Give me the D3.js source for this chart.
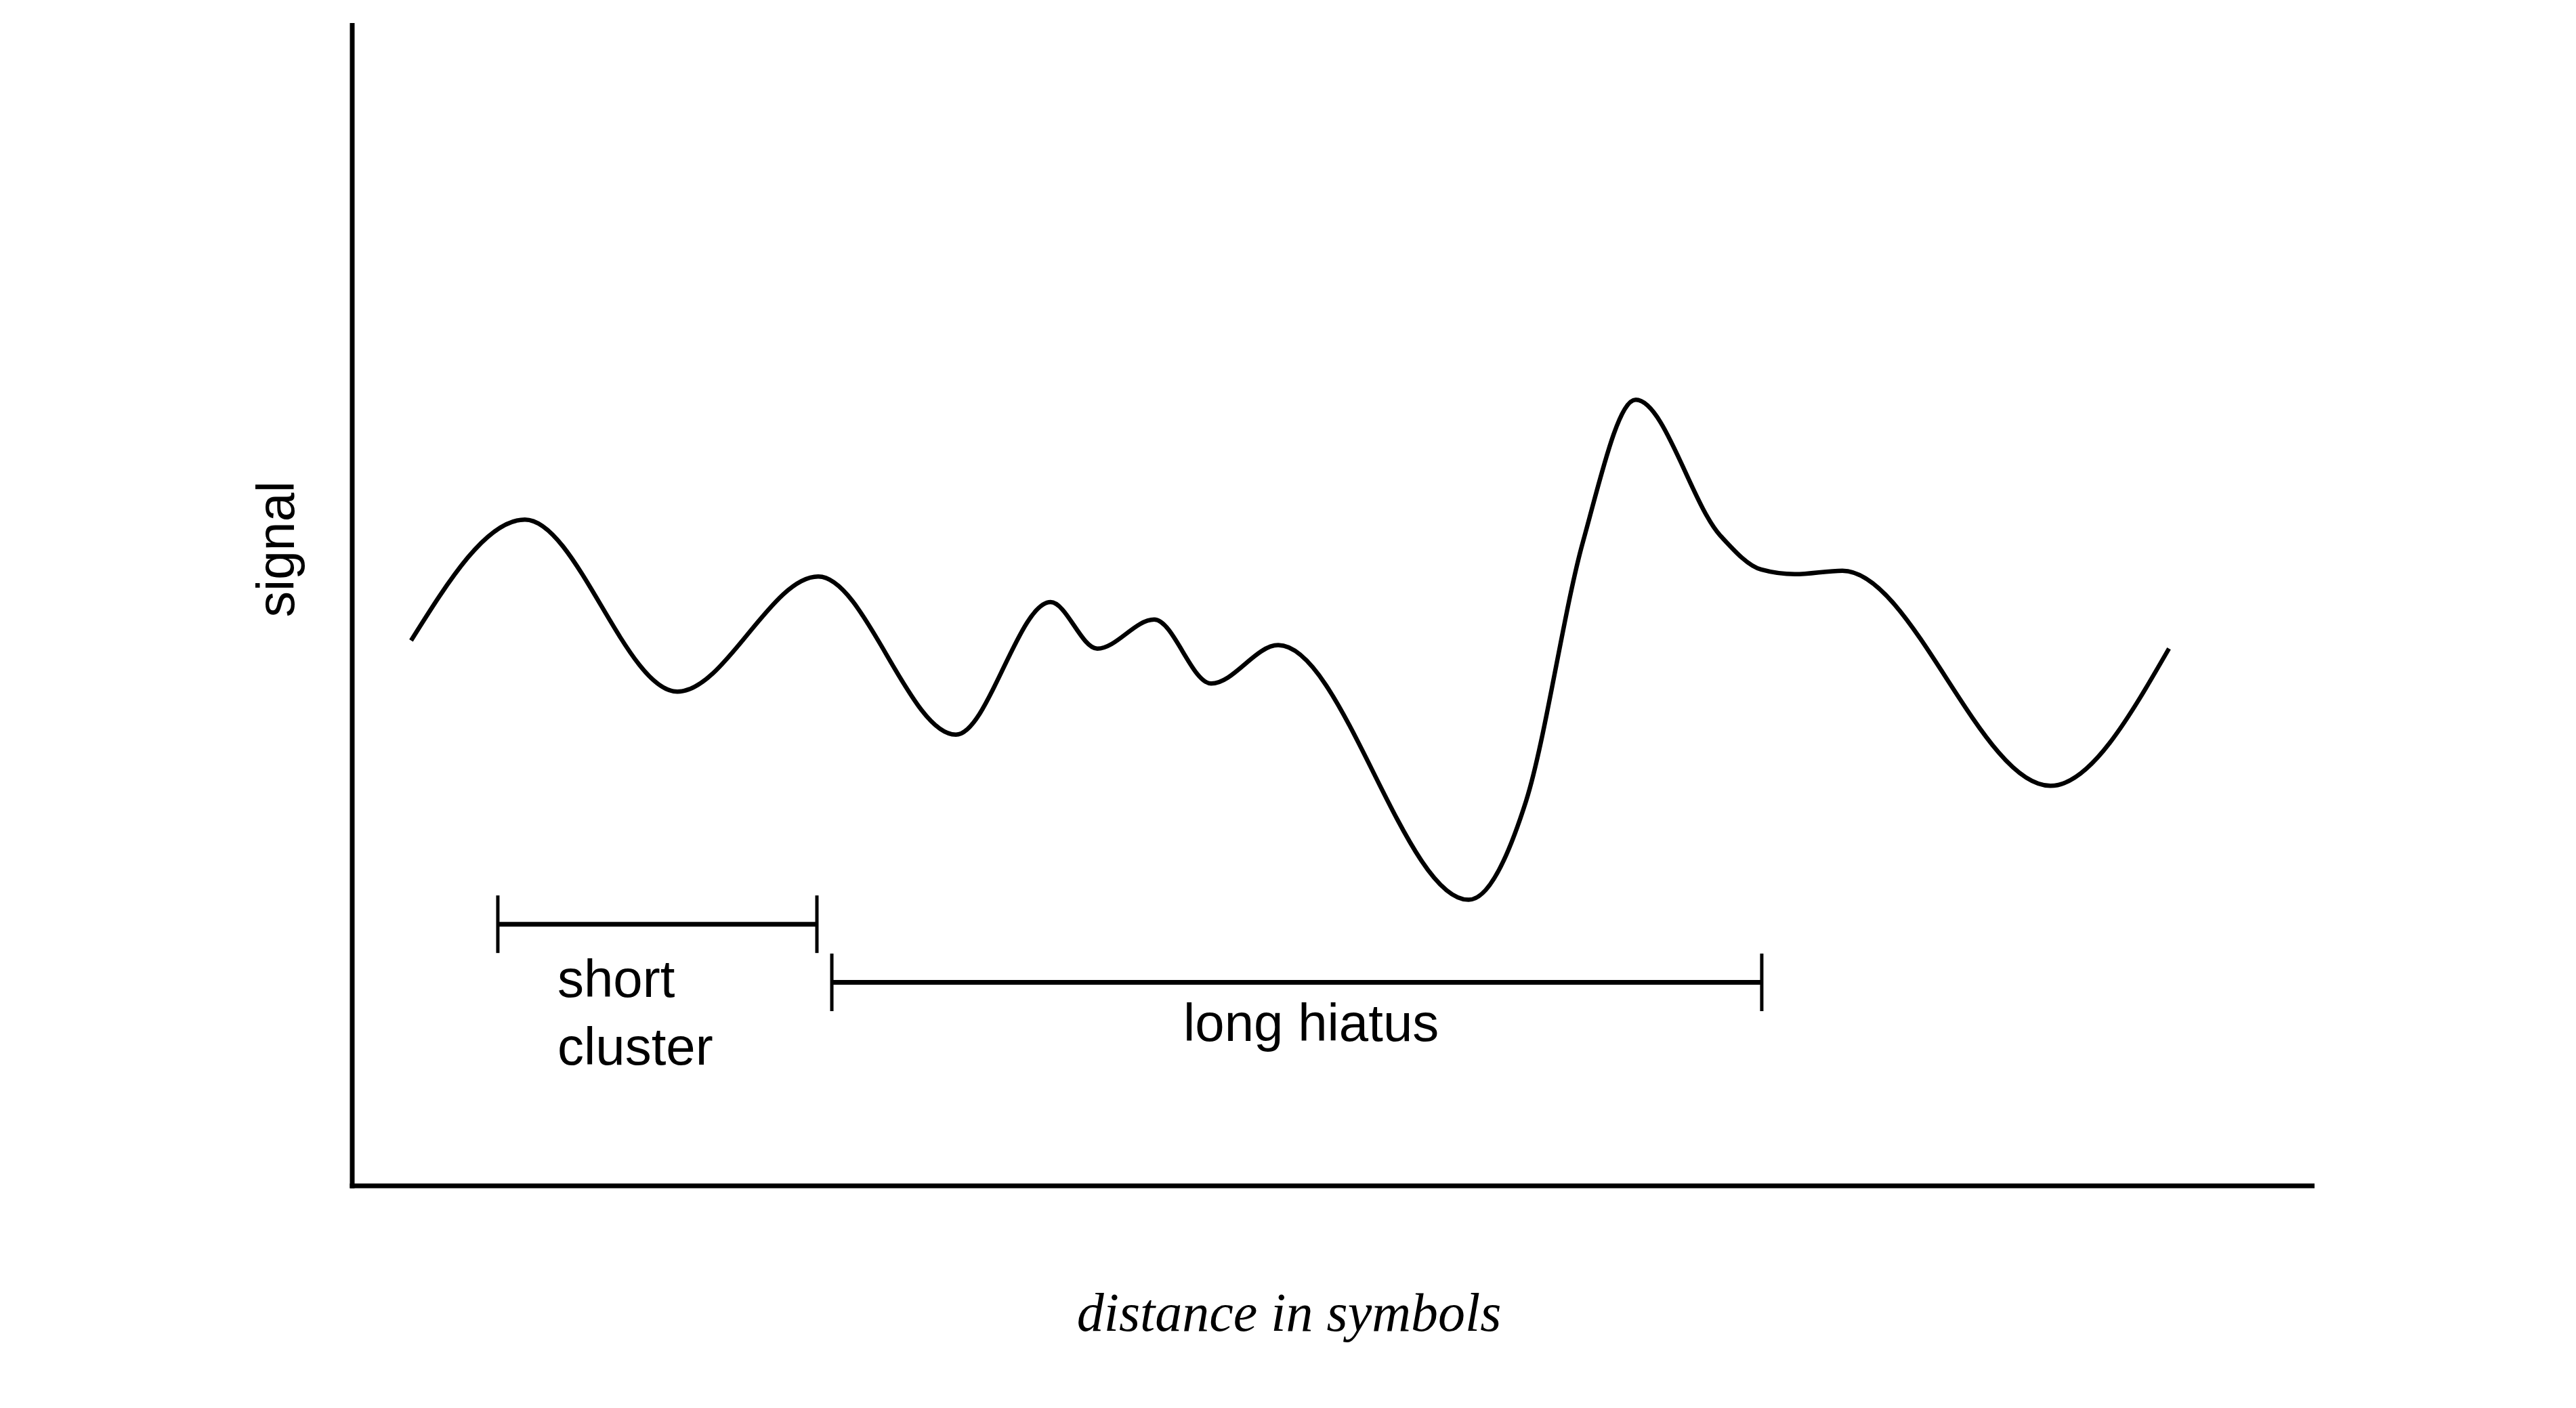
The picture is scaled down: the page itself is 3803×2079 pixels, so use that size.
<!DOCTYPE html>
<html>
<head>
<meta charset="utf-8">
<script src="https://cdn.jsdelivr.net/npm/d3@7"></script>
<style>
  html, body { margin: 0; padding: 0; background: #fff; }
  svg { display: block; }
</style>
</head>
<body>
<script>
// ---- Data (arbitrary units) ----
const distance = [30.0, 88.0, 165.7, 237.5, 307.6, 355.9, 379.7, 408.7, 437.7, 471.9, 568.9,
  598.2, 627.2, 654.1, 697.3, 718.0, 735.2, 759.4, 865.4, 925.8];
const signal = [46.9, 57.3, 42.5, 52.4, 38.8, 50.2, 46.2, 48.7, 43.2, 46.5, 24.6,
  33.1, 55.4, 67.6, 55.9, 53.0, 52.6, 52.9, 34.4, 46.2];
const spanLabels = [["short", "cluster"], ["long hiatus"]];
const spanStart = [74.2, 244.4];
const spanEnd = [236.8, 718.3];
const spanLevel = [22.5, 17.5];
const xTitle = "distance in symbols";
const yTitle = "signal";

// ---- Layout ----
const W = 3803, H = 2079;
const svg = d3.select("body").append("svg").attr("width", W).attr("height", H);

const x = d3.scaleLinear().domain([0, 1000]).range([520, 3417]);
const y = d3.scaleLinear().domain([0, 100]).range([1751, 34]);

// Axes (no ticks)
const [x0, x1] = x.range();
const [yb, yt] = y.range();
svg.append("line").attr("x1", x0).attr("x2", x0).attr("y1", yt).attr("y2", yb + 3.5)
  .attr("stroke", "#000").attr("stroke-width", 7);
svg.append("line").attr("x1", x0 - 3.5).attr("x2", x1).attr("y1", yb).attr("y2", yb)
  .attr("stroke", "#000").attr("stroke-width", 7);

// Signal curve
const pts = distance.map((d, i) => [d, signal[i]]);
const line = d3.line().x(d => x(d[0])).y(d => y(d[1])).curve(d3.curveMonotoneX);
svg.append("path").datum(pts).attr("d", line)
  .attr("fill", "none").attr("stroke", "#000").attr("stroke-width", 6.5)
  .attr("stroke-linejoin", "round");

// Span brackets
const half = 42.5;
const font = "'Liberation Sans', Arial, Helvetica, sans-serif";
spanStart.forEach((s, i) => {
  const g = svg.append("g");
  const xs = x(s), xe = x(spanEnd[i]), yy = y(spanLevel[i]);
  g.append("line").attr("x1", xs).attr("x2", xe).attr("y1", yy).attr("y2", yy)
    .attr("stroke", "#000").attr("stroke-width", 7);
  [xs, xe].forEach(xx => g.append("line").attr("x1", xx).attr("x2", xx)
    .attr("y1", yy - half).attr("y2", yy + half).attr("stroke", "#000").attr("stroke-width", 5));
  const lbl = spanLabels[i];
  const tx = i === 0 ? xs + 88 : xs + 519;
  const ty = i === 0 ? yy + 107 : yy + 86;
  lbl.forEach((t, j) => {
    g.append("text").attr("x", tx).attr("y", ty + j * 100)
      .attr("font-family", font).attr("font-size", 78).attr("fill", "#000").text(t);
  });
});

// Axis titles
svg.append("text").attr("transform", "translate(434,811) rotate(-90)")
  .attr("text-anchor", "middle").attr("font-family", font).attr("font-size", 77)
  .attr("fill", "#000").text(yTitle);
svg.append("text").attr("x", 1903).attr("y", 1965).attr("text-anchor", "middle")
  .attr("font-family", "'Liberation Serif', 'Times New Roman', serif").attr("font-style", "italic")
  .attr("font-size", 80).attr("fill", "#000").text(xTitle);
</script>
</body>
</html>
